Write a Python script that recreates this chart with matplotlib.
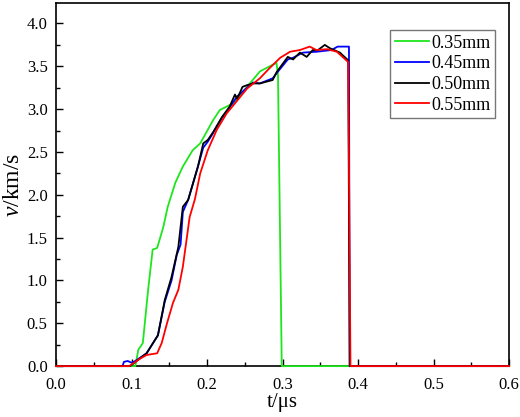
import numpy as np
import matplotlib
matplotlib.use("Agg")
import matplotlib.pyplot as plt
from matplotlib.ticker import MultipleLocator

plt.rcParams['font.family'] = ['Liberation Serif', 'DejaVu Serif']
plt.rcParams['mathtext.fontset'] = 'custom'
plt.rcParams['mathtext.rm'] = 'Liberation Serif'
plt.rcParams['mathtext.it'] = 'Liberation Serif:italic'

# courbes (t en µs, v en km/s)
t_035 = [0.0, 0.105, 0.109, 0.115, 0.122, 0.128, 0.134, 0.142, 0.148, 0.158, 0.168, 0.181,
         0.191, 0.208, 0.217, 0.235, 0.253, 0.27, 0.283, 0.292, 0.294, 0.299, 0.39]
v_035 = [0.0, 0.0, 0.19, 0.27, 0.89, 1.36, 1.38, 1.62, 1.86, 2.14, 2.33, 2.52,
         2.6, 2.87, 2.99, 3.07, 3.26, 3.44, 3.5, 3.54, 3.4, 0.0, 0.0]

t_045 = [0.0, 0.088, 0.09, 0.095, 0.1, 0.105, 0.12, 0.135, 0.144, 0.153, 0.16, 0.165, 0.168,
         0.175, 0.188, 0.195, 0.201, 0.208, 0.22, 0.23, 0.24, 0.253, 0.261, 0.27,
         0.287, 0.295, 0.307, 0.314, 0.327, 0.345, 0.365, 0.373, 0.388, 0.389, 0.6]
v_045 = [0.0, 0.0, 0.05, 0.06, 0.04, 0.06, 0.15, 0.36, 0.75, 1.0, 1.3, 1.42, 1.8,
         1.94, 2.33, 2.55, 2.62, 2.72, 2.9, 3.02, 3.15, 3.25, 3.31, 3.3,
         3.36, 3.45, 3.58, 3.6, 3.66, 3.67, 3.69, 3.73, 3.73, 0.0, 0.0]

t_050 = [0.0, 0.098, 0.12, 0.135, 0.144, 0.153, 0.162, 0.168, 0.175, 0.188, 0.195, 0.201,
         0.208, 0.22, 0.23, 0.237, 0.24, 0.247, 0.253, 0.261, 0.27, 0.287, 0.292, 0.307,
         0.314, 0.323, 0.332, 0.34, 0.347, 0.356, 0.363, 0.376, 0.387, 0.389, 0.6]
v_050 = [0.0, 0.0, 0.15, 0.36, 0.77, 1.04, 1.39, 1.86, 1.94, 2.33, 2.6, 2.64,
         2.73, 2.91, 3.03, 3.17, 3.12, 3.26, 3.28, 3.3, 3.3, 3.34, 3.43, 3.61,
         3.58, 3.66, 3.61, 3.69, 3.69, 3.75, 3.71, 3.66, 3.57, 0.0, 0.0]

t_055 = [0.0, 0.097, 0.11, 0.12, 0.134, 0.14, 0.147, 0.155, 0.162, 0.168, 0.177, 0.184,
         0.191, 0.201, 0.213, 0.226, 0.24, 0.253, 0.27, 0.283, 0.297, 0.31, 0.323,
         0.336, 0.345, 0.359, 0.372, 0.387, 0.39, 0.6]
v_055 = [0.0, 0.0, 0.08, 0.13, 0.15, 0.27, 0.5, 0.74, 0.89, 1.16, 1.74, 1.95,
         2.25, 2.52, 2.76, 2.95, 3.1, 3.24, 3.36, 3.48, 3.6, 3.67, 3.69,
         3.73, 3.69, 3.7, 3.67, 3.55, 0.0, 0.0]

fig = plt.figure(figsize=(5.2, 4.17), dpi=100)
ax = fig.add_axes([0.1077, 0.122, 0.8712, 0.871])

ax.plot(t_035, v_035, color='#1ee61e', lw=1.3, label='0.35mm', zorder=3, clip_on=False)
ax.plot(t_045, v_045, color='#0000ff', lw=1.3, label='0.45mm', zorder=3, clip_on=False)
ax.plot(t_050, v_050, color='black', lw=1.3, label='0.50mm', zorder=3, clip_on=False)
ax.plot(t_055, v_055, color='#ff0000', lw=1.3, label='0.55mm', zorder=3, clip_on=False)

ax.set_xlim(0, 0.6)
ax.set_ylim(0, 4.24)
ax.xaxis.set_major_locator(MultipleLocator(0.1))
ax.xaxis.set_minor_locator(MultipleLocator(0.05))
ax.yaxis.set_major_locator(MultipleLocator(0.5))
ax.yaxis.set_minor_locator(MultipleLocator(0.25))
ax.tick_params(which='both', direction='in', labelsize=12, top=False, right=False, width=1)
ax.tick_params(which='major', length=5, pad=6)
ax.tick_params(axis='x', which='major', pad=8)
ax.tick_params(which='minor', length=3)
for s in ax.spines.values():
    s.set_linewidth(1.2)

ax.set_xlabel('t/μs', fontsize=15, labelpad=0)
ax.set_ylabel(r'$\it{v}$/km/s', fontsize=17, labelpad=2)

leg = ax.legend(loc='upper right', bbox_to_anchor=(0.97, 0.925), fontsize=13,
                fancybox=False, framealpha=1, edgecolor='#777777',
                handlelength=1.9, handletextpad=0.15, borderpad=0.25, labelspacing=0.2,
                borderaxespad=0)
leg.get_frame().set_linewidth(1)

plt.savefig("out.png")
